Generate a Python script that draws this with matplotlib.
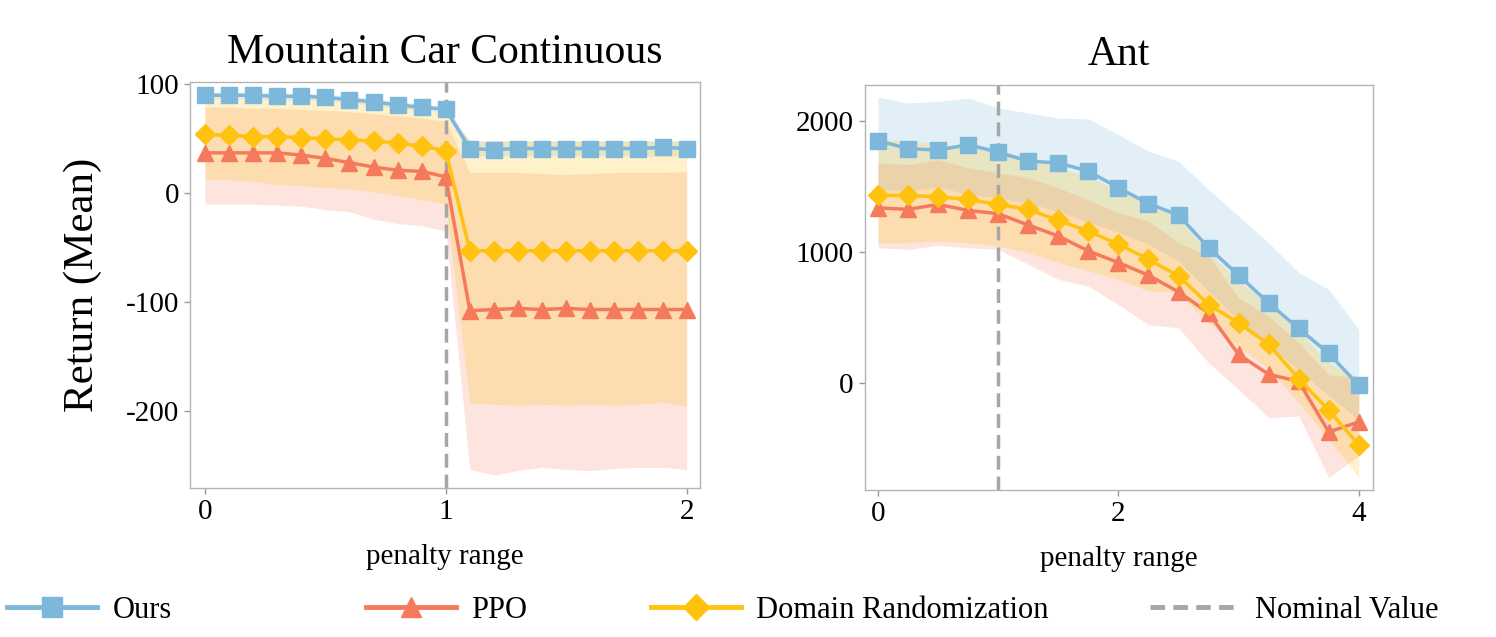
import matplotlib
matplotlib.use("Agg")
import matplotlib.pyplot as plt
from matplotlib.lines import Line2D

plt.rcParams['font.family'] = ['Liberation Serif', 'DejaVu Serif']
plt.rcParams['axes.unicode_minus'] = False

# ---------------- data: Mountain Car Continuous ----------------
mc_x = [0.0, 0.1, 0.2, 0.3, 0.4, 0.5, 0.6, 0.7, 0.8, 0.9, 1.0,
        1.1, 1.2, 1.3, 1.4, 1.5, 1.6, 1.7, 1.8, 1.9, 2.0]
mc_ours = [90, 90, 90, 89, 89, 88, 86, 84, 81, 79, 77,
           41, 40, 41, 41, 41, 41, 41, 41, 42, 41]
mc_ours_lo = [87, 87, 87, 86, 86, 85, 83, 81, 78, 76, 74,
              34, 34, 34, 34, 34, 34, 34, 34, 34, 34]
mc_ours_hi = [93, 93, 93, 92, 92, 91, 89, 87, 84, 82, 80,
              48, 48, 48, 48, 48, 48, 48, 48, 48, 48]
mc_ppo = [37, 37, 37, 37, 35, 32, 28, 24, 21, 20, 15,
          -108, -107, -106, -107, -106, -107, -107, -107, -107, -107]
mc_ppo_lo = [-10, -10, -10, -11, -12, -15, -17, -24, -28, -30, -35,
             -254, -259, -255, -252, -254, -255, -253, -252, -252, -254]
mc_ppo_hi = [79, 79, 78, 78, 77, 76, 75, 73, 71, 69, 66,
             19, 19, 19, 18, 17, 18, 19, 19, 19, 20]
mc_dr = [54, 53, 52, 52, 51, 50, 49, 48, 46, 43, 39,
         -53, -53, -53, -53, -53, -53, -53, -53, -53, -53]
mc_dr_lo = [13, 12, 11, 8, 7, 5, 4, 1, -2, -6, -10,
            -193, -194, -195, -194, -195, -194, -195, -194, -192, -196]
mc_dr_hi = [88, 88, 88, 87, 87, 86, 85, 83, 80, 77, 74,
            48, 48, 48, 48, 48, 48, 48, 48, 48, 48]

# ---------------- data: Ant ----------------
ant_x = [0.0, 0.25, 0.5, 0.75, 1.0, 1.25, 1.5, 1.75, 2.0,
         2.25, 2.5, 2.75, 3.0, 3.25, 3.5, 3.75, 4.0]
ant_ours = [1852, 1791, 1779, 1822, 1763, 1695, 1682, 1618, 1491,
            1371, 1282, 1033, 822, 610, 415, 224, -20]
ant_ours_lo = [1480, 1465, 1500, 1440, 1415, 1375, 1310, 1230, 1150,
               1060, 930, 700, 480, 280, 100, -100, -280]
ant_ours_hi = [2186, 2140, 2153, 2178, 2102, 2064, 2025, 2018, 1898,
               1771, 1695, 1478, 1275, 1071, 842, 715, 407]
ant_ppo = [1338, 1326, 1364, 1318, 1293, 1206, 1122, 1008, 919,
           822, 695, 534, 216, 64, 10, -377, -300]
ant_ppo_lo = [1033, 1020, 1051, 1033, 1020, 906, 791, 738, 598,
              445, 420, 153, -51, -267, -254, -725, -560]
ant_ppo_hi = [1682, 1669, 1707, 1644, 1606, 1567, 1491, 1400, 1300,
              1237, 1071, 969, 650, 509, 305, 60, 38]
ant_dr = [1433, 1433, 1422, 1402, 1364, 1326, 1242, 1160, 1059,
          944, 817, 598, 458, 293, 31, -211, -476]
ant_dr_lo = [1071, 1071, 1084, 1071, 1046, 995, 919, 855, 791,
             702, 687, 458, 280, 102, -153, -433, -725]
ant_dr_hi = [1860, 1850, 1830, 1800, 1780, 1720, 1650, 1570, 1480,
             1400, 1250, 1000, 780, 600, 400, 150, 40]

nominal_value = 1.0
series_names = ["Ours", "PPO", "Domain Randomization"]
titles = ["Mountain Car Continuous", "Ant"]

C_OURS = "#7db8db"
C_PPO = "#f57a5c"
C_DR = "#ffc20e"
C_NOM = "#a6a6a6"

fig = plt.figure(figsize=(14.96, 6.37), dpi=100)
ax1 = fig.add_axes([0.127, 0.234, 0.341, 0.637])
ax2 = fig.add_axes([0.578, 0.231, 0.340, 0.636])

FS_TICK = 21
FS_TITLE = 30
FS_LEG = 22


def draw(ax, x, ours, olo, ohi, ppo, plo, phi, dr, dlo, dhi):
    ax.fill_between(x, olo, ohi, color=C_OURS, alpha=0.22, lw=0, zorder=1)
    ax.fill_between(x, plo, phi, color=C_PPO, alpha=0.2, lw=0, zorder=1)
    ax.fill_between(x, dlo, dhi, color=C_DR, alpha=0.22, lw=0, zorder=1)
    ax.axvline(nominal_value, color=C_NOM, ls=(0, (4, 2)), lw=2.5, zorder=2)
    ax.plot(x, ours, color=C_OURS, lw=2.5, marker='s', ms=11, zorder=3)
    ax.plot(x, ppo, color=C_PPO, lw=2.5, marker='^', ms=11, zorder=4)
    ax.plot(x, dr, color=C_DR, lw=2.5, marker='D', ms=10, zorder=5)
    for s in ax.spines.values():
        s.set_color("#b3b3b3")
        s.set_linewidth(1.0)
    ax.tick_params(axis='both', labelsize=FS_TICK, color="#9a9a9a",
                   length=4, width=1, direction='out', pad=4)
    ax.set_xlabel("penalty range", fontsize=FS_TICK, labelpad=14)


draw(ax1, mc_x, mc_ours, mc_ours_lo, mc_ours_hi, mc_ppo, mc_ppo_lo, mc_ppo_hi,
     mc_dr, mc_dr_lo, mc_dr_hi)
ax1.set_xlim(-0.062, 2.056)
ax1.set_ylim(-271, 102)
ax1.set_xticks([0, 1, 2])
ax1.set_yticks([-200, -100, 0, 100])
ax1.set_title(titles[0], fontsize=FS_TITLE, pad=14)
ax1.set_ylabel("Return (Mean)", fontsize=31, labelpad=17)

draw(ax2, ant_x, ant_ours, ant_ours_lo, ant_ours_hi, ant_ppo, ant_ppo_lo, ant_ppo_hi,
     ant_dr, ant_dr_lo, ant_dr_hi)
ax2.set_xlim(-0.111, 4.121)
ax2.set_ylim(-820, 2280)
ax2.set_xticks([0, 2, 4])
ax2.set_yticks([0, 1000, 2000])
ax2.set_title(titles[1], fontsize=FS_TITLE, pad=14)

handles = [
    Line2D([], [], color=C_OURS, lw=3.5, marker='s', ms=15),
    Line2D([], [], color=C_PPO, lw=3.5, marker='^', ms=15),
    Line2D([], [], color=C_DR, lw=3.5, marker='D', ms=13),
    Line2D([], [], color=C_NOM, lw=3.5, ls=(0, (3, 1.7))),
]
labels = series_names + ["Nominal Value"]
xs = [0.0047, 0.2447, 0.435, 0.7687]
for h, l, xx in zip(handles, labels, xs):
    fig.legend([h], [l], loc='center left', bbox_to_anchor=(xx, 0.042),
               frameon=False, fontsize=FS_LEG, handlelength=2.95,
               handletextpad=0.5, borderpad=0, borderaxespad=0)

fig.savefig("out.png", dpi=100)
